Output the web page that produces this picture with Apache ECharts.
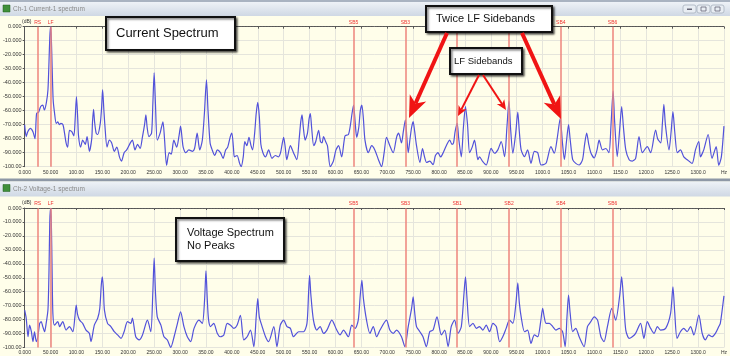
<!DOCTYPE html>
<html><head><meta charset="utf-8">
<script src="https://cdn.jsdelivr.net/npm/echarts@6/dist/echarts.min.js"></script>
<style>html,body{margin:0;padding:0;background:#fff}#c{width:730px;height:356px}</style>
</head><body><div id="c"></div><script>
// [frequency Hz, level dB]
const currentSpectrum = [[0,-70],[3,-78.5],[6,-75],[11,-72.6],[16,-75],[20,-80],[23,-62],[27,-61],[31,-57],[35,-56],[38,-59.5],[42,-54],[45,-45],[47,-25],[48.5,-8],[50,0],[51.5,-8],[53,-28],[55,-52],[57.5,-61],[61,-69],[64,-68],[67,-70],[70,-69],[74,-70],[77,-76],[80,-83],[83,-86],[86.5,-74],[91,-75],[95,-78],[97.5,-66],[100,-50],[102.5,-66],[104,-78],[108,-86],[112,-81],[117,-84],[120.5,-78.5],[125,-89],[129.5,-80],[131,-68],[133,-59],[135,-68],[138,-76],[141,-77],[146,-69],[148.5,-58],[150.5,-45],[153,-60],[155,-71],[159,-86],[163.5,-81],[168,-83],[173,-89],[178,-86],[183,-93],[187,-96],[192,-90],[197,-88],[204,-83],[208,-81],[213,-88],[218,-84],[223,-87],[227.5,-78.5],[231.5,-70],[234,-63],[236.5,-72],[240,-78.5],[245,-76],[247.5,-55],[250,-33],[252.5,-55],[256,-81],[261.5,-76],[264,-72],[267,-68],[270,-80],[274,-99],[279,-90],[283,-91],[288,-81],[293.5,-86],[298,-78],[301,-71],[304,-80],[306,-86],[311,-90],[317,-88],[324,-89],[328,-87],[331,-80],[333,-76],[336,-84],[338,-88],[343,-81],[347,-62],[351,-38],[354,-60],[358,-83],[362,-88],[367,-92],[372,-88],[378,-90],[383,-94],[388,-88],[392,-86],[397,-78.5],[400,-76],[403,-86],[405,-93],[410,-92],[415,-97.6],[418,-100],[422,-93],[425,-82],[429,-85],[433,-79],[437,-85],[440,-88],[444,-76],[447,-62],[450,-54],[453,-64],[456,-84],[460,-90],[465,-93],[471,-88],[477.5,-94],[484,-92],[490,-93],[494,-90],[497,-84],[500,-79],[503,-86],[506,-95],[513,-85],[519,-90],[525.5,-95],[530,-80],[533,-68],[535.5,-63],[538,-72],[541.5,-81],[546,-76],[549,-66],[551.5,-62],[554,-72],[558,-85],[562,-82],[567.5,-74],[571,-82],[574,-83],[577,-78.5],[581,-82],[584.5,-85],[590,-100],[596,-96],[601,-88],[606,-85],[612,-93],[618.5,-78],[625,-77],[629,-70],[632,-62],[635,-56],[638,-68],[641,-79],[645,-72],[648,-60],[651,-56],[654,-66],[657,-81],[663.5,-90],[670,-85],[676,-88],[683,-95],[689,-100],[694,-90],[698.5,-79],[705,-85],[711.5,-90],[718,-79],[722,-76],[727.5,-83],[731,-75],[735,-66.6],[738,-80],[740.5,-90],[744,-80],[747,-72],[750,-67.8],[753,-75],[756.5,-85],[763,-97],[768,-87],[772,-93],[776,-97],[782,-96],[788.5,-98.5],[793,-92],[798,-90],[803,-93],[808,-90],[814,-85],[820.5,-81],[825,-84],[828,-83],[831,-75],[835,-69],[838,-80],[843,-93],[847,-72],[851,-57],[855,-70],[859,-90],[864,-86],[868.5,-81],[875,-95],[878,-93],[884.5,-96.4],[891,-98.8],[900.5,-86.9],[907,-90.4],[913.5,-88],[920,-82],[926.5,-92.8],[931,-72],[935,-53],[938,-72],[942.5,-90.4],[948,-76],[952,-61],[955,-75],[958.5,-88],[965,-92.8],[971,-88],[977.5,-97.6],[984,-89],[990.5,-90],[997,-98.8],[1006.5,-97.6],[1016,-85.7],[1022.5,-90.4],[1028,-80],[1034,-65.5],[1038,-82],[1042,-95],[1046,-82],[1050,-70],[1053,-80],[1058,-95],[1064,-97.6],[1070.5,-98.8],[1077,-95],[1081,-84],[1085,-76],[1089,-84],[1093,-90],[1099.5,-93.8],[1105,-88],[1109,-81],[1115.5,-88],[1122,-87],[1128,-90],[1132,-70],[1136,-46],[1139,-68],[1144,-92.8],[1149,-72],[1152.5,-57],[1156,-72],[1160.5,-88],[1167,-95],[1173,-96],[1179.5,-94],[1186,-78.5],[1192.5,-90],[1202,-85.7],[1208.5,-90],[1218,-73.8],[1222,-80],[1228,-83],[1231,-70],[1234,-55.5],[1237,-70],[1244,-88],[1248,-75],[1251.5,-60.7],[1255,-75],[1260,-90],[1266,-88],[1272.5,-93],[1279,-95],[1288.5,-97.6],[1295,-88],[1301.5,-82],[1304.5,-93],[1311,-88],[1319.5,-77],[1327,-94],[1335,-85.7],[1340,-99],[1345,-93],[1350,-71]];

const voltageSpectrum = [[0,-73.2],[3,-79],[6.5,-92.3],[9.5,-84],[13,-88.7],[16,-95.8],[19,-88.7],[22.5,-95.8],[25.5,-92.3],[29,-82.7],[32,-81.5],[35,-85],[38.5,-88.7],[41.5,-82.7],[45,-73],[47,-45],[48.5,-10],[50,0],[51.5,-10],[53,-45],[54.5,-75.6],[57.5,-84],[64,-81.5],[67.5,-85],[73.5,-81.5],[80,-87.5],[86.5,-85],[93,-88.7],[97,-78],[99.5,-69.6],[102,-76],[106,-80.4],[112,-82.7],[118.5,-87.5],[125,-89.9],[128,-95.8],[134.5,-84],[141,-79],[145,-72],[148,-55],[150,-49.4],[152,-58],[154,-73.2],[160,-82.7],[166.5,-85],[173,-88.7],[179.5,-91],[186,-93.5],[192,-88.7],[198.5,-81.5],[205,-82.7],[208,-79],[214.5,-92.3],[221,-94.6],[227.5,-91],[237,-80.4],[243.5,-88.7],[247.5,-60],[250,-36],[252.5,-60],[256,-78],[263,-84],[269,-92.3],[275.5,-94.6],[282,-99.9],[288.5,-92.3],[295,-82.7],[301,-74.4],[307.5,-85],[314,-92.3],[320.5,-95.8],[327,-86.3],[336.5,-80.4],[343,-82.7],[347.5,-65],[350,-45],[352.5,-65],[355,-80],[359,-85],[365,-82.7],[372,-89.9],[378,-92.3],[384.5,-91],[391,-82.7],[397.5,-84],[404,-86.3],[410,-84],[416.5,-77],[423,-94.6],[429.5,-92.3],[436,-87.5],[442.5,-99.4],[447,-78],[450,-65],[453,-78],[458.5,-85],[465,-92.3],[471,-95.8],[481,-85],[487,-99.4],[493.5,-84],[500,-80.4],[506.5,-85],[513,-86.3],[519,-92.3],[529,-88.7],[538.5,-88.7],[545,-82.7],[548,-62],[550,-48.2],[552.5,-62],[557.5,-80.4],[564,-87.5],[570.5,-85],[577,-89.9],[583.5,-87.5],[593,-80.4],[602.5,-87.5],[609,-91],[615.5,-87.5],[625,-92.3],[631.5,-84],[638,-86.3],[644,-80.4],[648,-62],[651,-51.8],[654,-65],[660,-80.4],[666.5,-89.9],[673,-85],[679.5,-92.3],[686,-87.5],[698.5,-80.4],[705,-87.5],[711.5,-89.9],[718,-87.5],[727.5,-92.3],[734,-99.4],[740.5,-85],[747,-72],[750,-63.7],[753,-75],[756.5,-85],[763,-88.7],[769,-92.3],[775.5,-99.4],[782,-88.7],[788.5,-87.5],[796,-78],[804.5,-91],[811,-87.5],[817.5,-99.4],[823.5,-85],[830,-80.4],[836.5,-89.9],[843,-85],[848,-62],[851,-49.4],[854,-65],[859,-85],[865.5,-82.7],[872,-86.3],[878,-85],[884.5,-87.5],[891,-84],[897.5,-88.7],[904,-82.7],[910.5,-85],[917,-95.8],[923,-92.3],[929.5,-86.3],[936,-80.4],[942.5,-82.7],[948.5,-68],[952,-53.7],[955,-68],[958.5,-78],[965,-88.7],[971,-87.5],[977.5,-97],[984,-91],[990.5,-92.3],[996,-82],[1000,-72],[1003,-78],[1006.5,-82.7],[1013,-82.7],[1019.5,-85],[1025.5,-87.5],[1032,-86.3],[1038.5,-88.7],[1043.5,-99.4],[1047,-78],[1050,-62.5],[1053,-75],[1058,-88.7],[1064,-86.3],[1070.5,-92.3],[1080,-99.4],[1086.5,-85],[1093,-81.5],[1099.5,-78],[1106,-80.4],[1112.5,-92.3],[1118.5,-95.8],[1125,-85],[1133.5,-72],[1141,-80.4],[1149,-62],[1152.5,-49.4],[1156,-65],[1160.5,-87.5],[1167,-93.5],[1173,-92.3],[1179.5,-89.9],[1189,-82.7],[1195.5,-93.5],[1202,-81.5],[1208.5,-86.3],[1215,-89.9],[1221.5,-85],[1227.5,-87.5],[1237.5,-86.3],[1247,-75.6],[1251.5,-56.5],[1255,-75],[1259.5,-93.5],[1266,-88.7],[1272.5,-86.3],[1279,-88.7],[1285.5,-85],[1292,-91],[1301.5,-76.8],[1308,-89.9],[1314,-94.6],[1320.5,-91],[1327,-92.3],[1333.5,-89.9],[1340,-85],[1343,-82.7],[1350,-63]];

const markerFreqs = [25, 50, 635, 735, 835, 935, 1035, 1135];
const markerNames = ['RS', 'LF', 'SB5', 'SB3', 'SB1', 'SB2', 'SB4', 'SB6'];
const panelTitles = ['Ch-1 Current-1 spectrum', 'Ch-2 Voltage-1 spectrum'];
const xRange = [0, 1350], xStep = 50;
const yRange = [-100, 0], yStep = 10;
const xUnit = 'Hz', yUnit = '(dB)';

function fmtX(v) {
  if (v === xRange[1]) return xUnit;
  if (v < 100) return v.toFixed(3);
  if (v < 1000) return v.toFixed(2);
  return v.toFixed(1);
}
function fmtY(v) { return Math.abs(v) >= 100 ? v.toFixed(2) : v.toFixed(3); }

const chart = echarts.init(document.getElementById('c'), null, {renderer: 'canvas'});

const grids = [
  {left: 23, right: 5, top: 26.7, height: 140},
  {left: 23, right: 5, top: 208, height: 139.5}
];

function xAxisFor(i) {
  return {
    type: 'value', gridIndex: i, min: xRange[0], max: xRange[1], interval: xStep,
    axisLine: {lineStyle: {color: '#555', width: 1}},
    axisTick: {length: 2, lineStyle: {color: '#555'}},
    axisLabel: {fontSize: 5, color: '#333', margin: 3, formatter: fmtX, showMaxLabel: true, hideOverlap: false, fontFamily: 'Liberation Sans'},
    splitLine: {show: true, lineStyle: {color: '#e5e5dc', width: 1}}
  };
}
function yAxisFor(i) {
  return {
    type: 'value', gridIndex: i, min: yRange[0], max: yRange[1], interval: yStep,
    axisLine: {show: true, lineStyle: {color: '#555', width: 1}},
    axisTick: {show: true, length: 2, lineStyle: {color: '#555'}},
    axisLabel: {fontSize: 5.5, color: '#333', margin: 3, formatter: fmtY, fontFamily: 'Liberation Sans'},
    splitLine: {show: true, lineStyle: {color: '#e5e5dc', width: 1}}
  };
}

function markerLines() {
  const data = markerFreqs.map((f, k) => ({xAxis: f, name: markerNames[k]}));
  data.push({yAxis: 0, name: '', lineStyle: {color: '#666', type: [1, 2], width: 1}, label: {show: false}});
  return {
    silent: true, symbol: ['none', 'none'], animation: false,
    lineStyle: {color: '#ee857c', width: 1.5, type: 'solid'},
    label: {show: true, position: 'end', formatter: '{b}', fontSize: 5, color: '#e33', distance: 2, fontFamily: 'Liberation Sans'},
    data: data
  };
}

function seriesFor(i, data) {
  return {
    type: 'line', xAxisIndex: i, yAxisIndex: i, data: data,
    showSymbol: false, symbol: 'none', animation: false,
    smooth: 0.25,
    lineStyle: {color: '#5252da', width: 1.2},
    markLine: markerLines()
  };
}

function arrow(x1, y1, x2, y2, w, hl, hw) {
  const dx = x2 - x1, dy = y2 - y1, L = Math.hypot(dx, dy);
  const ux = dx / L, uy = dy / L, nx = -uy, ny = ux;
  const bx = x2 - ux * hl, by = y2 - uy * hl;
  const mx = x2 - ux * hl * 0.72, my = y2 - uy * hl * 0.72;
  return [
    {type: 'line', z: 120, shape: {x1: x1, y1: y1, x2: mx, y2: my}, style: {stroke: '#f01414', lineWidth: w}},
    {type: 'polygon', z: 121, shape: {points: [[x2, y2], [bx + nx * hw, by + ny * hw], [mx, my], [bx - nx * hw, by - ny * hw]]}, style: {fill: '#f01414'}}
  ];
}

function titleBar(y, h, text) {
  return [
    {type: 'rect', z: 50, shape: {x: 0, y: y, width: 730, height: h},
      style: {fill: new echarts.graphic.LinearGradient(0, 0, 0, 1, [{offset: 0, color: '#eef2f7'}, {offset: 1, color: '#cfd8e4'}])}},
    {type: 'rect', z: 51, shape: {x: 3, y: y + 3, width: 7, height: 7}, style: {fill: '#3f8f3a', stroke: '#1f5f1f', lineWidth: 0.5}},
    {type: 'text', z: 52, x: 13, y: y + h / 2 + 0.5,
      style: {text: text, fill: '#8a8a8a', fontSize: 6.5, fontFamily: 'Liberation Sans', textVerticalAlign: 'middle', verticalAlign: 'middle'}}
  ];
}

function box(x, y, w, h, lines, fs, tx) {
  const els = [{type: 'rect', z: 100, shape: {x: x, y: y, width: w, height: h},
    style: {fill: '#fff', stroke: '#111', lineWidth: 2, shadowBlur: 2, shadowOffsetX: 1.5, shadowOffsetY: 1.5, shadowColor: 'rgba(0,0,0,0.55)'}}];
  const lh = fs * 1.15;
  const y0 = y + h / 2 - (lines.length - 1) * lh / 2;
  lines.forEach((t, k) => els.push({type: 'text', z: 101, x: tx, y: y0 + k * lh,
    style: {text: t, fill: '#111', fontSize: fs, fontFamily: 'Liberation Sans', textVerticalAlign: 'middle', verticalAlign: 'middle'}}));
  return els;
}

const graphics = [].concat(
  [{type: 'rect', z: 49, shape: {x: 0, y: 0, width: 730, height: 2}, style: {fill: '#a9b3c1'}}],
  titleBar(2, 14, panelTitles[0]),
  [{type: 'rect', z: 49, shape: {x: 0, y: 178.5, width: 730, height: 3}, style: {fill: '#8e98a6'}}],
  titleBar(181.5, 15, panelTitles[1]),
  [683, 697, 711].map(bx => ({type: 'rect', z: 53, shape: {x: bx, y: 5, width: 13, height: 8, r: 2},
    style: {fill: '#e8edf3', stroke: '#a7b1be', lineWidth: 0.8}})),
  [{type: 'rect', z: 54, shape: {x: 687, y: 8.5, width: 5, height: 1.5}, style: {fill: '#667'}},
   {type: 'rect', z: 54, shape: {x: 701, y: 7, width: 5, height: 4}, style: {fill: 'none', stroke: '#667', lineWidth: 0.8}},
   {type: 'rect', z: 54, shape: {x: 715, y: 7, width: 5, height: 4}, style: {fill: 'none', stroke: '#667', lineWidth: 0.8}}],
  [{type: 'text', z: 60, x: 22, y: 21.5, style: {text: yUnit, fill: '#333', fontSize: 5, fontFamily: 'Liberation Sans', textVerticalAlign: 'middle', verticalAlign: 'middle'}},
   {type: 'text', z: 60, x: 22, y: 203, style: {text: yUnit, fill: '#333', fontSize: 5, fontFamily: 'Liberation Sans', textVerticalAlign: 'middle', verticalAlign: 'middle'}}],
  box(106, 17, 129, 33, ['Current Spectrum'], 13, 116),
  box(426, 6, 126, 26, ['Twice LF Sidebands'], 11, 436),
  box(450, 48, 72, 26, ['LF Sidebands'], 9.5, 454),
  box(176, 218, 108, 43, ['Voltage Spectrum', 'No Peaks'], 11, 187),
  arrow(447, 33, 409, 118, 4, 22, 9),
  arrow(522, 33, 561, 119, 4, 22, 9),
  arrow(479, 75, 458, 116, 2, 10, 4.5),
  arrow(483, 75, 506, 110, 2, 10, 4.5)
);

chart.setOption({
  animation: false,
  backgroundColor: '#fffeea',
  grid: grids,
  xAxis: [xAxisFor(0), xAxisFor(1)],
  yAxis: [yAxisFor(0), yAxisFor(1)],
  series: [seriesFor(0, currentSpectrum), seriesFor(1, voltageSpectrum)],
  graphic: {elements: graphics}
});
</script></body></html>
